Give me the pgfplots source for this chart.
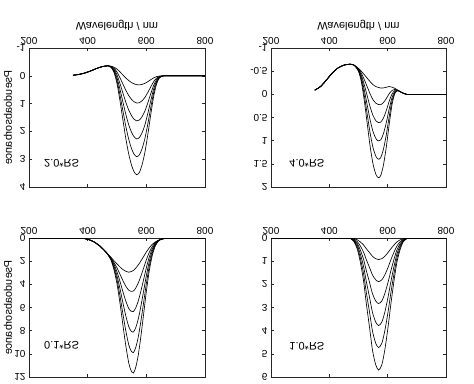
\documentclass[border=0pt]{standalone}
\usepackage{fontspec}
\setmainfont{Liberation Sans}
\usepackage{graphicx}
\usepackage{pgfplots}
\usepackage{pgfplotstable}
\pgfplotsset{compat=1.18}

\pgfplotstableread{
x y1 y2 y3 y4 y5 y6
350 -0.020 -0.020 -0.020 -0.020 -0.020 -0.020
370 -0.049 -0.049 -0.049 -0.049 -0.049 -0.049
390 -0.100 -0.100 -0.100 -0.100 -0.100 -0.100
410 -0.175 -0.175 -0.175 -0.175 -0.175 -0.175
430 -0.261 -0.261 -0.261 -0.261 -0.261 -0.261
450 -0.332 -0.332 -0.332 -0.332 -0.332 -0.332
470 -0.360 -0.360 -0.360 -0.360 -0.360 -0.360
480 -0.347 -0.337 -0.328 -0.318 -0.309 -0.299
490 -0.309 -0.270 -0.231 -0.192 -0.154 -0.115
500 -0.241 -0.135 -0.033 0.071 0.173 0.277
510 -0.142 0.068 0.272 0.478 0.682 0.889
520 -0.032 0.295 0.613 0.935 1.253 1.575
530 0.077 0.519 0.949 1.385 1.815 2.251
540 0.171 0.710 1.232 1.762 2.284 2.815
550 0.245 0.853 1.443 2.041 2.631 3.229
558 0.289 0.932 1.556 2.190 2.814 3.448
567 0.320 0.980 1.620 2.270 2.910 3.560
576 0.327 0.969 1.592 2.224 2.847 3.479
585 0.311 0.903 1.478 2.062 2.637 3.220
595 0.272 0.779 1.270 1.770 2.261 2.760
605 0.212 0.600 0.976 1.358 1.734 2.117
615 0.141 0.399 0.648 0.902 1.151 1.405
625 0.074 0.210 0.342 0.476 0.608 0.742
635 0.029 0.083 0.135 0.189 0.241 0.294
645 0.008 0.021 0.034 0.047 0.059 0.072
660 0 0 0 0 0 0
700 0 0 0 0 0 0
800 0 0 0 0 0 0
}\tabA

\pgfplotstableread{
x y1 y2 y3 y4 y5 y6
350 -0.09 -0.09 -0.09 -0.09 -0.09 -0.09
370 -0.17 -0.17 -0.17 -0.17 -0.17 -0.17
390 -0.31 -0.31 -0.31 -0.31 -0.31 -0.31
410 -0.46 -0.46 -0.46 -0.46 -0.46 -0.46
430 -0.57 -0.57 -0.57 -0.57 -0.57 -0.57
450 -0.63 -0.63 -0.63 -0.63 -0.63 -0.63
470 -0.65 -0.65 -0.65 -0.65 -0.65 -0.65
485 -0.63 -0.63 -0.63 -0.63 -0.63 -0.63
500 -0.559 -0.547 -0.535 -0.522 -0.510 -0.497
510 -0.497 -0.452 -0.405 -0.357 -0.309 -0.261
520 -0.423 -0.315 -0.202 -0.088 0.027 0.143
530 -0.347 -0.161 0.036 0.236 0.435 0.637
540 -0.272 -0.006 0.274 0.558 0.842 1.130
550 -0.208 0.118 0.461 0.808 1.156 1.508
560 -0.166 0.194 0.574 0.958 1.342 1.732
568 -0.150 0.220 0.610 1.005 1.400 1.800
576 -0.136 0.223 0.601 0.985 1.368 1.756
585 -0.138 0.181 0.517 0.858 1.199 1.544
595 -0.153 0.094 0.355 0.619 0.884 1.151
605 -0.169 -0.012 0.154 0.322 0.489 0.659
615 -0.155 -0.084 -0.009 0.067 0.142 0.219
625 -0.129 -0.109 -0.088 -0.066 -0.045 -0.023
635 -0.090 -0.088 -0.085 -0.083 -0.081 -0.078
645 -0.05 -0.05 -0.05 -0.05 -0.05 -0.05
655 -0.02 -0.02 -0.02 -0.02 -0.02 -0.02
665 0 0 0 0 0 0
700 0 0 0 0 0 0
800 0 0 0 0 0 0
}\tabB

\pgfplotstableread{
x y1 y2 y3 y4 y5 y6
200 0 0 0 0 0 0
340 0 0 0 0 0 0
360 0 0 0 0 0 0
380 0.02 0.02 0.02 0.02 0.02 0.02
400 0.11 0.11 0.11 0.11 0.11 0.11
420 0.31 0.31 0.31 0.31 0.31 0.31
440 0.66 0.66 0.66 0.66 0.66 0.66
460 1.15 1.15 1.15 1.15 1.15 1.15
470 1.42 1.43 1.45 1.46 1.47 1.49
480 1.68 1.73 1.78 1.83 1.89 1.94
490 1.97 2.13 2.29 2.45 2.61 2.77
500 2.23 2.58 2.92 3.27 3.61 3.96
510 2.50 3.12 3.74 4.35 4.97 5.59
520 2.72 3.67 4.62 5.57 6.53 7.48
530 2.87 4.16 5.44 6.72 8.01 9.29
540 2.95 4.51 6.08 7.64 9.21 10.78
548 2.90 4.61 6.32 8.03 9.74 11.45
556 2.81 4.58 6.35 8.12 9.89 11.66
564 2.60 4.31 6.02 7.73 9.44 11.15
572 2.34 3.91 5.48 7.04 8.61 10.18
580 2.04 3.39 4.73 6.08 7.42 8.77
590 1.63 2.65 3.67 4.69 5.71 6.73
600 1.21 1.89 2.58 3.26 3.94 4.63
610 0.85 1.24 1.64 2.04 2.43 2.83
620 0.55 0.75 0.94 1.14 1.33 1.53
630 0.35 0.42 0.49 0.57 0.64 0.72
640 0.20 0.22 0.24 0.26 0.29 0.31
650 0.11 0.11 0.11 0.11 0.11 0.11
660 0.05 0.05 0.05 0.05 0.05 0.05
680 0.01 0.01 0.01 0.01 0.01 0.01
700 0 0 0 0 0 0
800 0 0 0 0 0 0
}\tabC

\pgfplotstableread{
x y1 y2 y3 y4 y5 y6
200 0 0 0 0 0 0
464 0 0 0 0 0 0
475 0.007 0.015 0.023 0.030 0.038 0.046
485 0.028 0.056 0.085 0.113 0.142 0.171
496 0.079 0.160 0.241 0.321 0.402 0.485
506 0.167 0.338 0.509 0.680 0.851 1.026
517 0.298 0.602 0.906 1.210 1.514 1.824
527 0.465 0.940 1.415 1.890 2.365 2.850
538 0.632 1.278 1.924 2.570 3.216 3.876
548 0.791 1.598 2.406 3.213 4.021 4.845
559 0.893 1.805 2.717 3.629 4.541 5.472
569 0.930 1.880 2.830 3.780 4.730 5.700
580 0.893 1.805 2.717 3.629 4.541 5.472
590 0.791 1.598 2.406 3.213 4.021 4.845
601 0.632 1.278 1.924 2.570 3.216 3.876
611 0.465 0.940 1.415 1.890 2.365 2.850
622 0.298 0.602 0.906 1.210 1.514 1.824
632 0.167 0.338 0.509 0.680 0.851 1.026
643 0.079 0.160 0.241 0.321 0.402 0.485
653 0.028 0.056 0.085 0.113 0.142 0.171
664 0.007 0.015 0.023 0.030 0.038 0.046
674 0 0 0 0 0 0
800 0 0 0 0 0 0
}\tabD

\tikzset{lbl/.style={font=\fontsize{11bp}{13bp}\selectfont}}
\pgfplotsset{
  panel/.style={
    scale only axis, height=139bp, anchor=center,
    clip mode=individual,
    xmin=200, xmax=800, xtick={200,400,600,800},
    y dir=reverse,
    xticklabel pos=upper,
    /pgf/number format/assume math mode=true,
    xticklabel={\scalebox{1}[-1]{\pgfmathprintnumber{\tick}}},
    yticklabel={\scalebox{1}[-1]{\pgfmathprintnumber{\tick}}},
    tick label style={font=\fontsize{10bp}{12bp}\selectfont, text=black},
    label style={font=\fontsize{11bp}{13bp}\selectfont},
    axis line style={black!85, line width=0.6bp},
    major tick length=3bp,
    tick style={black!85, line width=0.5bp},
    ylabel style={at={([xshift=-21bp]axis description cs:0,0.5)}, anchor=center},
  },
  crv/.style={black, line width=0.65bp, smooth, tension=0.45, no marks},
}

\begin{document}
\begin{tikzpicture}
\useasboundingbox (0,0) rectangle (474bp,-384bp);

% 2.0*RS
\begin{axis}[panel, width=176bp, at={(117bp,-117.5bp)},
  ymin=-1, ymax=4, ytick={-1,0,1,2,3,4},
  ylabel={\reflectbox{Pseudoabsorbance}}]
\pgfplotsinvokeforeach{1,...,6}{\addplot[crv] table[x=x, y=y#1] {\tabA};}
\node[lbl] at (axis cs:311,3.15) {\scalebox{1}[-1]{2.0*RS}};
\node[lbl] at ([yshift=23bp]axis cs:500,-1) {\scalebox{1}[-1]{Wavelength / nm}};
\end{axis}

% 4.0*RS
\begin{axis}[panel, width=175bp, at={(358.5bp,-117.5bp)},
  ymin=-1, ymax=2, ytick={-1,-0.5,0,0.5,1,1.5,2}]
\pgfplotsinvokeforeach{1,...,6}{\addplot[crv] table[x=x, y=y#1] {\tabB};}
\node[lbl] at (axis cs:323,1.49) {\scalebox{1}[-1]{4.0*RS}};
\node[lbl] at ([yshift=23bp]axis cs:500,-1) {\scalebox{1}[-1]{Wavelength / nm}};
\end{axis}

% 0.1*RS
\begin{axis}[panel, width=176bp, at={(117bp,-307.5bp)},
  ymin=0, ymax=12, ytick={0,2,4,6,8,10,12},
  ylabel={\reflectbox{Pseudoabsorbance}}]
\pgfplotsinvokeforeach{1,...,6}{\addplot[crv] table[x=x, y=y#1] {\tabC};}
\node[lbl] at (axis cs:311,9.24) {\scalebox{1}[-1]{0.1*RS}};
\end{axis}

% 1.0*RS
\begin{axis}[panel, width=175bp, at={(358.5bp,-307.5bp)},
  ymin=0, ymax=6, ytick={0,1,2,3,4,5,6}]
\pgfplotsinvokeforeach{1,...,6}{\addplot[crv] table[x=x, y=y#1] {\tabD};}
\node[lbl] at (axis cs:323,4.69) {\scalebox{1}[-1]{1.0*RS}};
\end{axis}
\end{tikzpicture}
\end{document}
